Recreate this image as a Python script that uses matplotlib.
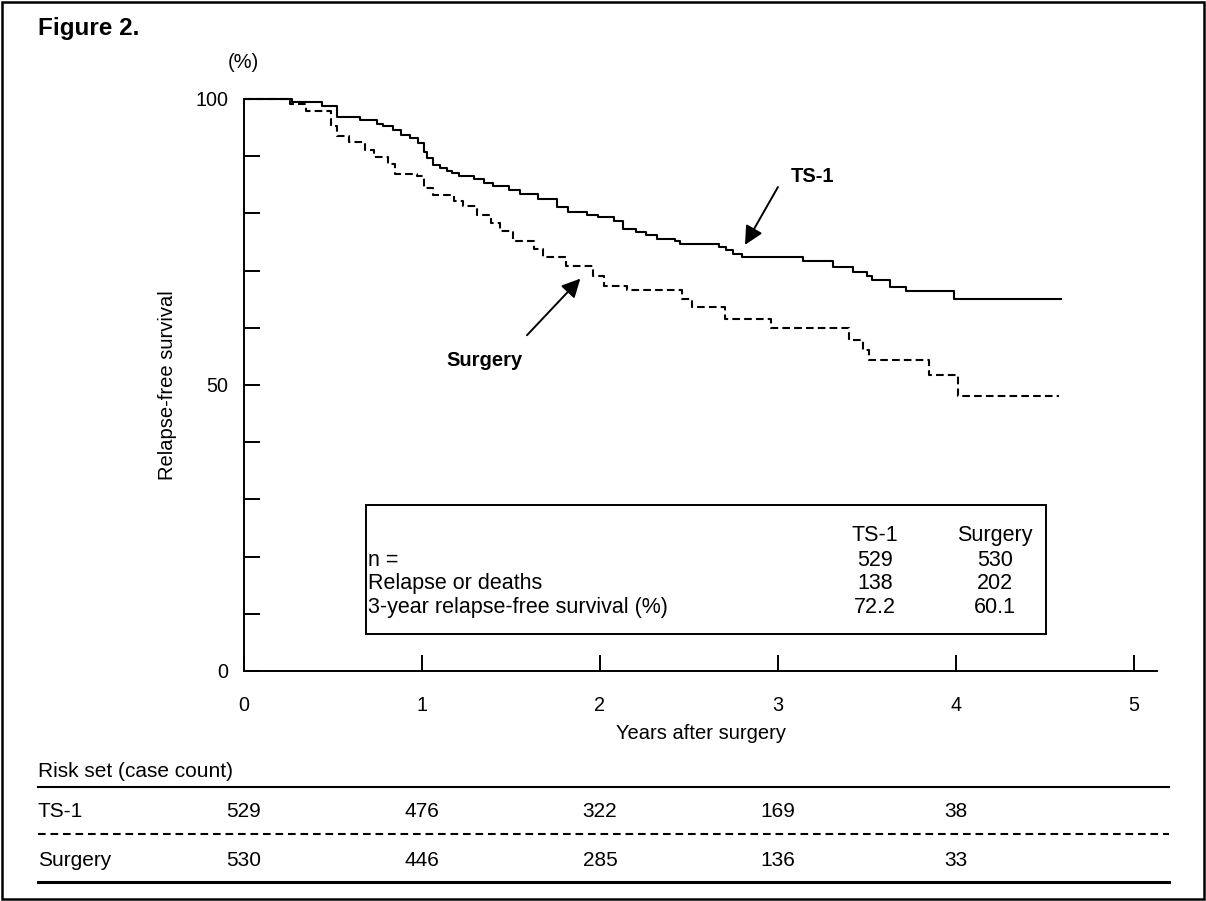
import matplotlib.pyplot as plt
from matplotlib.patches import Rectangle
from matplotlib.lines import Line2D
from matplotlib.transforms import blended_transform_factory

plt.rcParams['font.family'] = ['Liberation Sans', 'DejaVu Sans']
plt.rcParams['lines.scale_dashes'] = False

# Kaplan-Meier steps (years, %)
ts1_years = [0, 0.27, 0.44, 0.52, 0.65, 0.745, 0.78, 0.84, 0.88, 0.93, 0.98,
             1.01, 1.03, 1.06, 1.10, 1.14, 1.17, 1.21, 1.29, 1.35, 1.40, 1.49,
             1.55, 1.65, 1.76, 1.82, 1.93, 1.99, 2.08, 2.13, 2.20, 2.26, 2.32,
             2.42, 2.45, 2.67, 2.71, 2.75, 2.80, 3.14, 3.31, 3.42, 3.50, 3.53,
             3.63, 3.72, 3.99, 4.59]
ts1_rfs = [100, 99.5, 98.8, 96.9, 96.3, 95.7, 95.2, 94.6, 93.7, 93.1, 92.3,
           90.8, 89.7, 88.5, 88.0, 87.4, 87.0, 86.6, 86.0, 85.4, 84.8, 84.1,
           83.4, 82.6, 81.2, 80.3, 79.8, 79.3, 78.6, 77.2, 76.8, 76.2, 75.6,
           75.2, 74.7, 74.2, 73.6, 72.9, 72.4, 71.7, 70.6, 69.7, 69.1, 68.4,
           67.2, 66.5, 65.0, 65.0]

surg_years = [0, 0.26, 0.35, 0.49, 0.52, 0.59, 0.68, 0.73, 0.81, 0.85, 0.97,
              1.01, 1.06, 1.18, 1.23, 1.31, 1.39, 1.44, 1.51, 1.63, 1.68, 1.81,
              1.96, 2.02, 2.15, 2.46, 2.52, 2.70, 2.96, 3.40, 3.48, 3.51, 3.85,
              4.01, 4.58]
surg_rfs = [100, 99.1, 97.9, 95.2, 93.6, 92.5, 91.1, 89.9, 88.7, 86.9, 86.6,
            84.4, 83.2, 82.1, 81.3, 79.8, 78.4, 76.9, 75.1, 73.7, 72.3, 70.8,
            69.1, 67.3, 66.6, 65.0, 63.7, 61.6, 59.9, 57.8, 56.1, 54.3, 51.7,
            48.1, 48.1]

groups = ['TS-1', 'Surgery']
n_patients = [529, 530]
events = [138, 202]
rfs_3yr = [72.2, 60.1]
stat_labels = ['n =', 'Relapse or deaths', '3-year relapse-free survival (%)']

risk_years = [0, 1, 2, 3, 4]
risk_ts1 = [529, 476, 322, 169, 38]
risk_surg = [530, 446, 285, 136, 33]

W, H = 1206, 901


def fx(px):
    return px / W


def fy(py):
    return 1 - py / H


fig = plt.figure(figsize=(W / 100, H / 100), dpi=100)
ax = fig.add_axes([fx(244), fy(671), fx(1157) - fx(244), fy(99) - fy(671)])

ax.step(ts1_years, ts1_rfs, where='post', color='black', lw=1.5, clip_on=False)
ax.step(surg_years, surg_rfs, where='post', color='black', lw=1.5,
        linestyle=(0, (5.5, 3)), clip_on=False)

ax.set_xlim(0, 5.13)
ax.set_ylim(0, 100)
ax.spines['top'].set_visible(False)
ax.spines['right'].set_visible(False)
for s in ('left', 'bottom'):
    ax.spines[s].set_linewidth(1.4)

ax.set_xticks(range(6))
ax.set_yticks(range(0, 101, 10))
ax.set_yticklabels(['0', '', '', '', '', '50', '', '', '', '', '100'])
ax.tick_params(direction='in', length=11.5, width=1.4, labelsize=14.2)
ax.tick_params(axis='x', pad=18)
ax.tick_params(axis='y', pad=11.5)

ax.set_ylabel('Relapse-free survival', fontsize=14.5)
ax.yaxis.set_label_coords(-0.073, 0.5)
ax.set_xlabel('Years after surgery', fontsize=14.5)
ax.xaxis.set_label_coords(0.5, -0.0927)

arrow = dict(arrowstyle='-|>', color='black', lw=1.4, mutation_scale=28,
             shrinkA=0, shrinkB=0)
ax.annotate('', xy=(2.815, 74.5), xytext=(3.0, 84.6), arrowprops=arrow)
ax.annotate('', xy=(1.89, 68.6), xytext=(1.59, 58.7), arrowprops=arrow)
ax.text(3.197, 85.5, 'TS-1', fontsize=14.5, fontweight='bold',
        ha='center', va='baseline')
ax.text(1.354, 53.3, 'Surgery', fontsize=14.5, fontweight='bold',
        ha='center', va='baseline')

# summary box
fig.patches.append(Rectangle((fx(366), fy(634)), fx(1046) - fx(366),
                             fy(505) - fy(634), transform=fig.transFigure,
                             fill=False, ec='black', lw=1.4))
col_x = [875, 995]
row_y = [566, 589, 613]
for g, cx in zip(groups, col_x):
    fig.text(fx(cx), fy(541), g, fontsize=15.5, ha='center', va='baseline')
for lab, ry in zip(stat_labels, row_y):
    fig.text(fx(368), fy(ry), lab, fontsize=15.5, ha='left', va='baseline')
for j, cx in enumerate(col_x):
    vals = [n_patients[j], events[j], rfs_3yr[j]]
    for v, ry in zip(vals, row_y):
        fig.text(fx(cx), fy(ry), str(v), fontsize=15.5, ha='center',
                 va='baseline')

fig.text(fx(38), fy(35), 'Figure 2.', fontsize=17.5, fontweight='bold',
         ha='left', va='baseline')
fig.text(fx(243), fy(63), '(%)', fontsize=14.5, ha='center', va='center')

# risk table
fig.text(fx(38), fy(777), 'Risk set (case count)', fontsize=15,
         ha='left', va='baseline')
fig.text(fx(38), fy(817), 'TS-1', fontsize=15, ha='left', va='baseline')
fig.text(fx(38), fy(866), 'Surgery', fontsize=15, ha='left', va='baseline')
tr = blended_transform_factory(ax.transData, fig.transFigure)
for yr, a, b in zip(risk_years, risk_ts1, risk_surg):
    fig.text(yr, fy(817), str(a), fontsize=15, ha='center', va='baseline',
             transform=tr)
    fig.text(yr, fy(866), str(b), fontsize=15, ha='center', va='baseline',
             transform=tr)

fig.lines.append(Line2D([fx(38), fx(1169)], [fy(786.5), fy(786.5)],
                        transform=fig.transFigure, color='black', lw=1.5))
fig.lines.append(Line2D([fx(38), fx(1169)], [fy(834), fy(834)],
                        transform=fig.transFigure, color='black', lw=1.5,
                        linestyle=(0, (5.5, 3.5))))
fig.lines.append(Line2D([fx(38), fx(1169)], [fy(882), fy(882)],
                        transform=fig.transFigure, color='black', lw=2.2))

# frame round the whole figure
fig.patches.append(Rectangle((fx(2), fy(899)), fx(1204) - fx(2),
                             fy(2) - fy(899), transform=fig.transFigure,
                             fill=False, ec='black', lw=1.8))

fig.savefig('out.png', dpi=100)
